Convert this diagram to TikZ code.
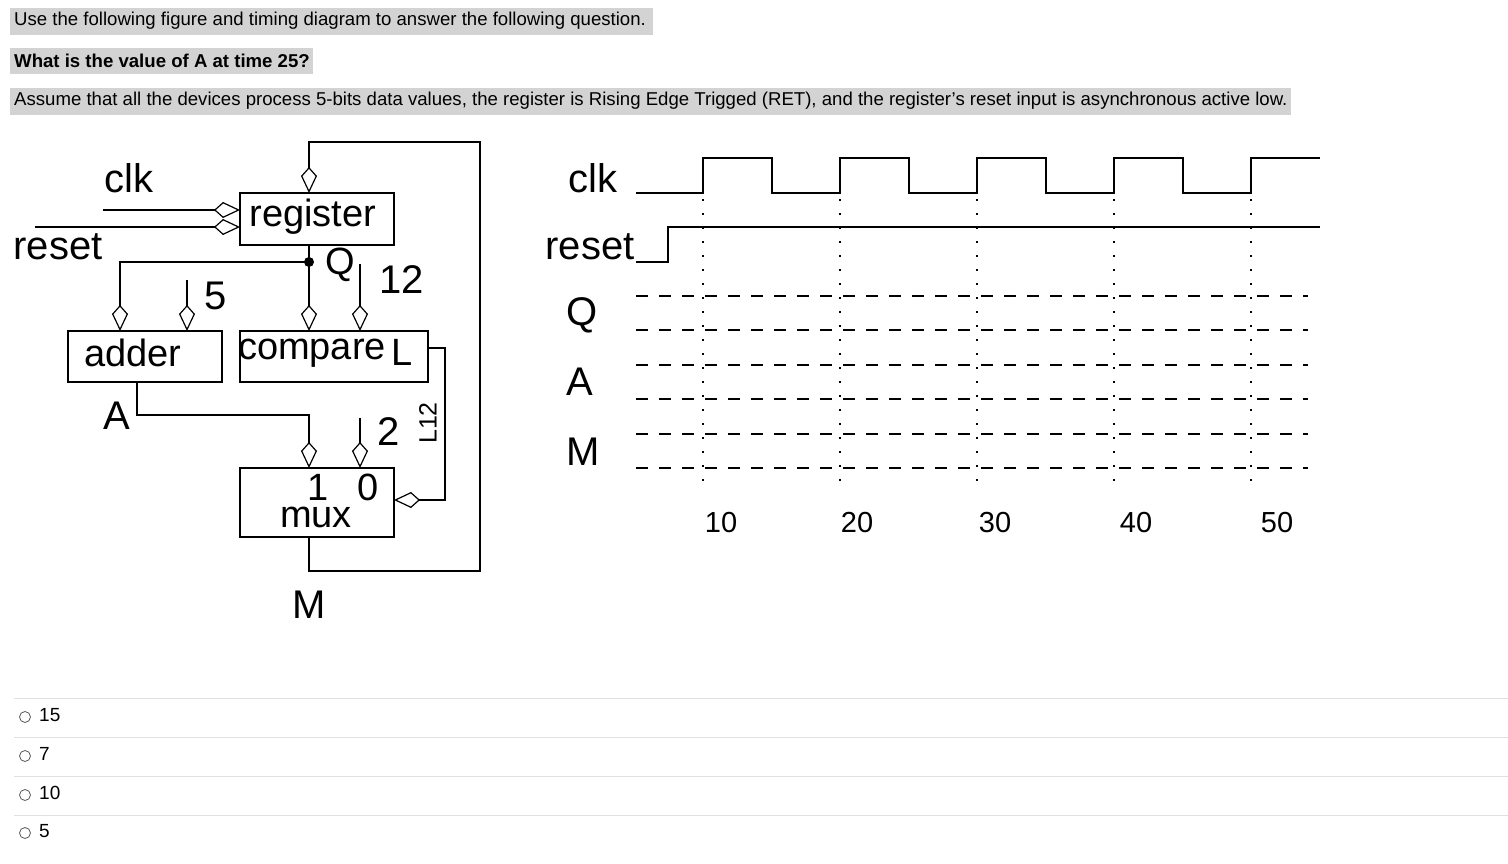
\documentclass[tikz,border=0pt]{standalone}
\usepackage{fontspec}
\setmainfont{Liberation Sans}
\usetikzlibrary{arrows.meta}
\definecolor{hl}{HTML}{D3D3D3}
\definecolor{sep}{HTML}{E0E0E0}
\begin{document}
\begin{tikzpicture}[x=1pt,y=-1pt,
  wire/.style={line width=1.4pt,line join=miter},
  box/.style={draw,line width=1.4pt,inner sep=0pt},
  dia/.style={-{Kite[open,length=26pt,width=16pt,inset=9pt,line width=1.2pt]}},
  big/.style={font=\fontsize{38}{38}\selectfont},
  lab/.style={font=\fontsize{40}{40}\selectfont},
  num/.style={font=\fontsize{29}{29}\selectfont},
  hdr/.style={anchor=west,font=\fontsize{18.6}{19}\selectfont,inner sep=0pt},
  opt/.style={anchor=west,font=\fontsize{19}{19}\selectfont,inner sep=0pt},
  tw/.style={line width=1.4pt},
  dsh/.style={line width=1.3pt,dash pattern=on 12pt off 11pt},
  dot/.style={line width=1.6pt,dash pattern=on 2pt off 12pt}]
\useasboundingbox (0,0) rectangle (1508,864);
\fill[white] (0,0) rectangle (1508,864);
% header
\fill[hl] (10,8) rectangle (653,35);
\node[hdr] (h1) at (14,21) {Use the following figure and timing diagram to answer the following question.};
\fill[hl] (10,48) rectangle (313,74);
\node[hdr,font=\fontsize{18.6}{19}\selectfont\bfseries] (h2) at (14,61) {What is the value of A at time 25?};
\fill[hl] (10,88) rectangle (1291,115);
\node[hdr] (h3) at (14,101) {Assume that all the devices process 5-bits data values, the register is Rising Edge Trigged (RET), and the register’s reset input is asynchronous active low.};
% circuit boxes
\draw[box] (240,193) rectangle (394,245);
\node[big] (reg) at (313,217) {register};
\draw[box] (68,331) rectangle (222,382);
\node[big] (add) at (133,353) {adder};
\draw[box] (240,331) rectangle (428,382);
\node[big] (cmp) at (312,353) {compare};
\node[big] (cL) at (402,352) {L};
\draw[box] (240,468) rectangle (394,537);
\node[big] (mux) at (316,517) {mux};
\node[big] (m1) at (318,487) {1};
\node[big] (m0) at (368,487) {0};
\coordinate (rtop) at (309,193);
\coordinate (rbot) at (309,245);
\coordinate (qd) at (309,262);
% wires
\draw[wire,dia] (309,537) -- (309,571) -- (480,571) -- (480,142) -- (309,142) -- (rtop);
\draw[wire,dia] (103,210) -- (240,210);
\draw[wire,dia] (35,227) -- (240,227);
\draw[wire,dia] (rbot) -- (309,331);
\fill (qd) circle (5pt);
\draw[wire,dia] (qd) -- (120,262) -- (120,331);
\draw[wire,dia] (187,280) -- (187,331);
\draw[wire,dia] (360,264) -- (360,331);
\draw[wire,dia] (428,348) -- (445,348) -- (445,500) -- (394,500);
\draw[wire,dia] (137,382) -- (137,415) -- (309,415) -- (309,468);
\draw[wire,dia] (360,418) -- (360,468);
% circuit labels
\node[lab] (lclk) at (129,178) {clk};
\node[lab] (lrst) at (58,247) {reset};
\node[big] (lq) at (340,265) {Q};
\node[lab] (l12) at (402,280) {12};
\node[lab] (l5) at (216,296) {5};
\node[lab] (lA) at (117,416) {A};
\node[lab] (l2) at (389,432) {2};
\node[font=\fontsize{25}{25}\selectfont,rotate=90] (lL12) at (428,423) {L12};
\node[lab] (lM) at (309,605) {M};
% timing
\node[lab] (tclk) at (593,178) {clk};
\node[lab] (trst) at (590,247) {reset};
\node[lab] (tq) at (582,315) {Q};
\node[lab] (ta) at (580,382) {A};
\node[lab] (tm) at (583,452) {M};
\draw[tw] (636,193) -- (703,193) -- (703,158) -- (772,158) -- (772,193) -- (840,193) -- (840,158) -- (909,158) -- (909,193) -- (977,193) -- (977,158) -- (1046,158) -- (1046,193) -- (1114,193) -- (1114,158) -- (1183,158) -- (1183,193) -- (1251,193) -- (1251,158) -- (1320,158);
\draw[tw] (636,262) -- (668,262) -- (668,227) -- (1320,227);
\foreach \x in {703,840,977,1114,1251} \draw[dot] (\x,199) -- (\x,492);
\foreach \y in {296,330,365,399,434,468} \draw[dsh] (636,\y) -- (1308,\y);
\node[num] (n10) at (721,523) {10};
\node[num] (n20) at (857,523) {20};
\node[num] (n30) at (995,523) {30};
\node[num] (n40) at (1136,523) {40};
\node[num] (n50) at (1277,523) {50};
% options
\foreach \y in {698,737,776,815} \draw[sep,line width=1pt] (14,\y) -- (1508,\y);
\foreach \y/\t in {717/15,756/7,795/10,833/5} {
  \draw[line width=0.8pt,gray!70!black] (25,\y) circle (5.5pt);
  \node[opt] at (39,\y-2) {\t};
}
\end{tikzpicture}
\end{document}
